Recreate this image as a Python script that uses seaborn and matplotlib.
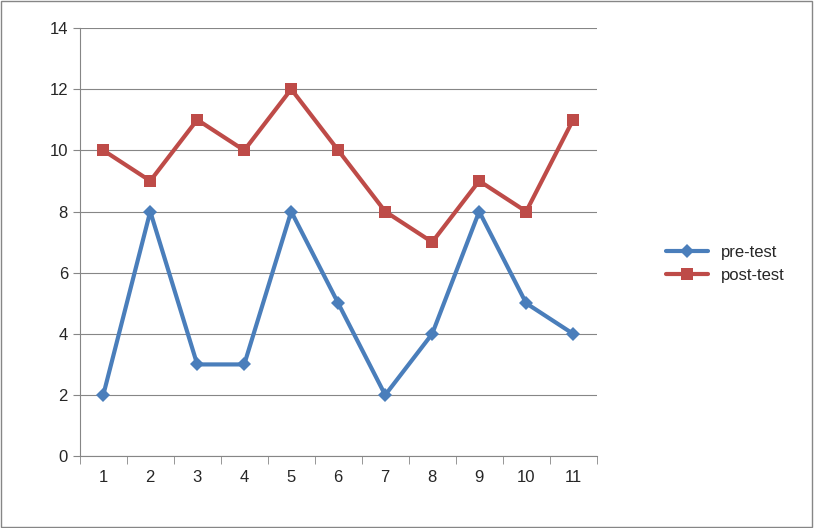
import matplotlib
matplotlib.use("Agg")
import matplotlib.pyplot as plt
import seaborn as sns
import pandas as pd

categories = [1, 2, 3, 4, 5, 6, 7, 8, 9, 10, 11]
pre_test = [2, 8, 3, 3, 8, 5, 2, 4, 8, 5, 4]
post_test = [10, 9, 11, 10, 12, 10, 8, 7, 9, 8, 11]

sns.set_style("white")
plt.rcParams['font.family'] = ['Liberation Sans', 'DejaVu Sans']

fig = plt.figure(figsize=(8.14, 5.28), dpi=100)
ax = fig.add_axes([0.098, 0.136, 0.635, 0.811])

df = pd.DataFrame({"x": list(range(len(categories))) * 2,
                   "y": pre_test + post_test,
                   "s": ["pre-test"] * len(categories) + ["post-test"] * len(categories)})
palette = {"pre-test": "#4A7EBB", "post-test": "#BE4B48"}
for name, mk, ms in [("pre-test", "D", 7), ("post-test", "s", 9)]:
    sub = df[df.s == name]
    sns.lineplot(data=sub, x="x", y="y", ax=ax, color=palette[name], marker=mk,
                 markersize=ms, linewidth=3, markeredgewidth=0, label=name)

ax.set_xlim(-0.5, len(categories) - 0.5)
ax.set_ylim(0, 14)
ax.set_yticks(range(0, 15, 2))
ax.set_xticks(range(len(categories)))
ax.set_xticklabels([str(c) for c in categories])
ax.set_xticks([i + 0.5 for i in range(-1, len(categories))], minor=True)
ax.tick_params(axis='x', which='major', length=0, labelsize=12, pad=10)
ax.tick_params(axis='x', which='minor', length=6, color='#868686', direction='out', bottom=True)
ax.tick_params(axis='y', length=5, color='#868686', labelsize=12, left=True, direction='out')
ax.grid(axis='y', color='#868686', linewidth=0.8)
ax.set_axisbelow(True)
for s in ['top', 'right']:
    ax.spines[s].set_visible(False)
for s in ['left', 'bottom']:
    ax.spines[s].set_color('#868686')
ax.set_xlabel("")
ax.set_ylabel("")
ax.legend(loc='center left', bbox_to_anchor=(0.8, 0.5), bbox_transform=fig.transFigure,
          frameon=False, fontsize=12, handlelength=2.5)

fig.patches.append(plt.Rectangle((0.001, 0.002), 0.997, 0.996, transform=fig.transFigure,
                                 fill=False, edgecolor='#868686', linewidth=1))
fig.savefig("out.png", dpi=100)
